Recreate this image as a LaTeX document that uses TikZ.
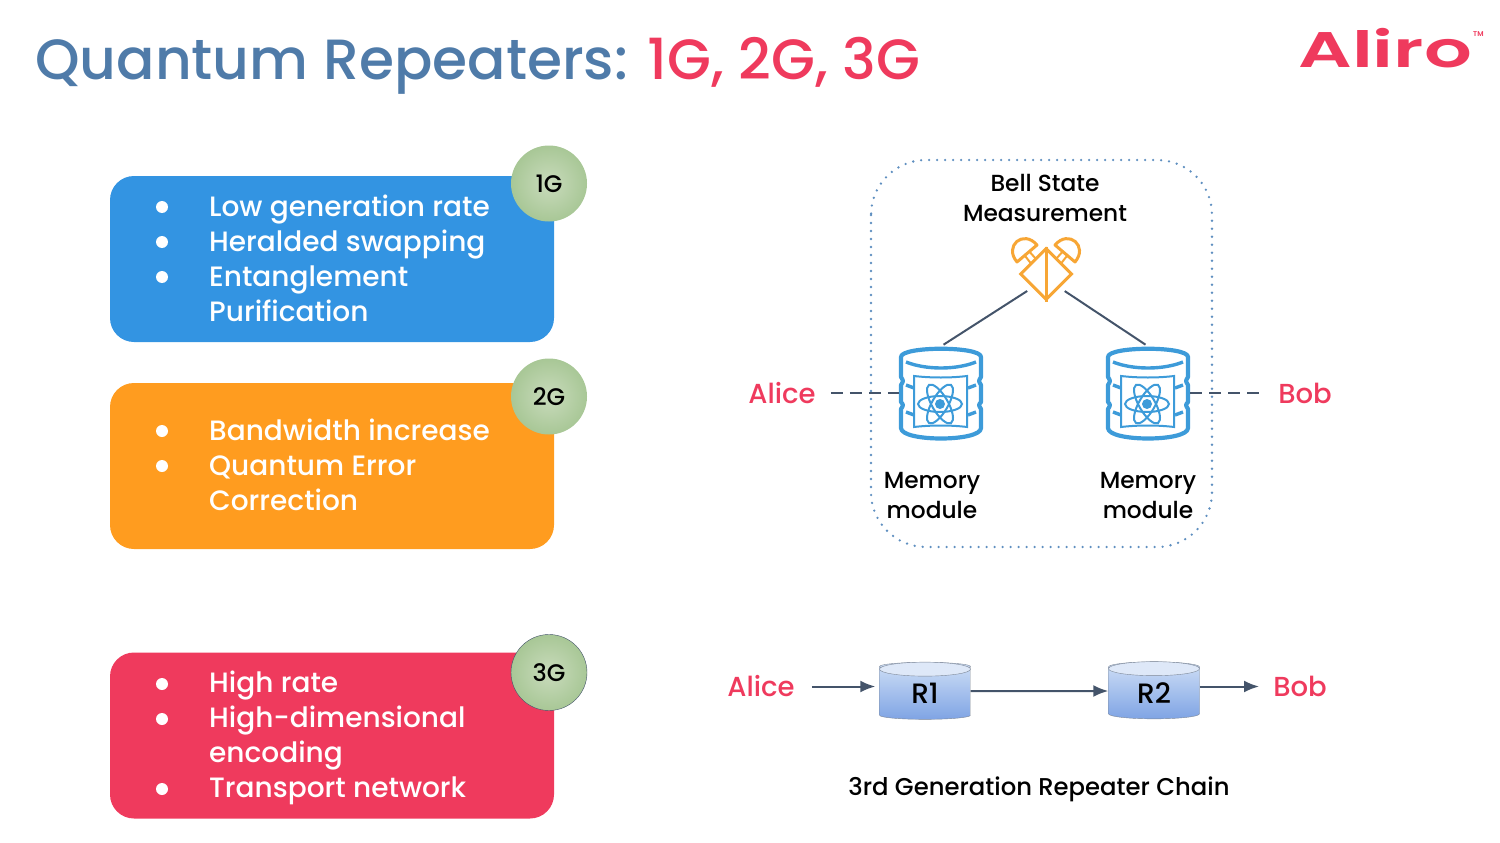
\documentclass[tikz,border=0pt]{standalone}
\usepackage{fontspec}
\setmainfont{Poppins}[UprightFont=* Medium,BoldFont=* SemiBold]
\usetikzlibrary{arrows.meta,shapes.geometric,scopes}
\definecolor{titleblue}{HTML}{4F7BA9}
\definecolor{aliro}{HTML}{EF3A5D}
\definecolor{cardblue}{HTML}{3394E2}
\definecolor{cardorange}{HTML}{FF9C1F}
\definecolor{lineslate}{HTML}{44546A}
\definecolor{iconblue}{HTML}{3D9BD9}
\definecolor{bsmorange}{HTML}{F7A635}
\definecolor{ballin}{HTML}{C9DBBC}
\definecolor{ballout}{HTML}{A8C796}
\definecolor{drumtop}{HTML}{CFDFF6}
\definecolor{drumlow}{HTML}{7FA4E4}
\definecolor{drumcap}{HTML}{DEE8F8}
\definecolor{framedot}{HTML}{5F8FC0}
\begin{document}
\begin{tikzpicture}[
    x=1pt,y=-1pt,
    card/.style={rectangle,rounded corners=24pt,minimum width=444pt,minimum height=166pt,inner sep=0pt},
    ball/.style={circle,minimum size=76pt,inner sep=0pt,inner color=ballin,outer color=ballout,font=\fontsize{24}{28}\selectfont},
    bullet/.style={circle,fill=white,minimum size=12pt,inner sep=0pt},
    item/.style={anchor=base west,white,inner sep=0pt,font=\fontsize{28}{30}\selectfont},
    label/.style={black,align=center,inner sep=0pt,font=\fontsize{23.3}{30}\selectfont},
    party/.style={aliro,inner sep=0pt,font=\fontsize{27.5}{30}\selectfont},
    link/.style={lineslate,line width=2pt},
    flow/.style={link,-{Latex[length=15pt,width=12pt]}},
    repeater/.style={cylinder,shape border rotate=90,aspect=0.3,draw=lineslate!70,thin,top color=drumtop,bottom color=drumlow,minimum width=91pt,minimum height=57pt,inner sep=0pt,font=\fontsize{28}{30}\selectfont},
    module/.style={minimum width=84pt,minimum height=93pt,inner sep=0pt},
    memory/.pic={
        % Outer body of the stacked drum
        \draw[iconblue,line width=4.2pt,line join=round]
            (-40,-16) -- (-40,-36) .. controls (-40,-47) and (40,-47) .. (40,-36) -- (40,-16)
            .. controls (37.5,-12) .. (40,-8) -- (40,9)
            .. controls (37.5,12) .. (40,16) -- (40,35)
            .. controls (40,49) and (-40,49) .. (-40,35) -- (-40,16)
            .. controls (-37.5,12) .. (-40,9) -- (-40,-8)
            .. controls (-37.5,-12) .. (-40,-16) -- cycle;
        \draw[iconblue,line width=3.4pt] (-35,-31) .. controls (-15,-23) and (15,-23) .. (35,-31);
        {[iconblue,line width=3.4pt]
            \draw (-35,-8) -- (-27,-5);
            \draw (35,-8) -- (27,-5);
            \draw (-35,19) -- (-27,22);
            \draw (35,19) -- (27,22);
        }
        % Panel with the atom on it
        \draw[iconblue,line width=2pt,fill=white] (-27,-17) .. controls (-10,-15) and (10,-15) .. (26,-17)
            -- (26,34) .. controls (10,32) and (-10,32) .. (-27,34) -- cycle;
        \foreach \tilt in {0,60,120}
            \draw[iconblue,line width=2pt,rotate around={\tilt:(-1,11)}] (-1,11) ellipse [x radius=22pt,y radius=8pt];
        \fill[iconblue] (-1,11) circle [radius=5pt];
    },
    ]
\useasboundingbox (0,0) rectangle (1500,843);

    %% Title and logo
    \node[anchor=base west,inner sep=0pt,titleblue,font=\fontsize{56.7}{60}\selectfont] (title) at (35,80)
        {Quantum Repeaters: \textcolor{aliro}{1G, 2G, 3G}};
    \node[anchor=base west,inner sep=0pt,aliro,xscale=1.5,font=\fontsize{50}{56}\selectfont\bfseries] (logo) at (1298,68) {Aliro};
    \node[anchor=base west,inner sep=0pt,aliro,font=\fontsize{7}{8}\selectfont\bfseries] (tm) at (1473,37) {TM};

    %% Generation cards
    \node[card,fill=cardblue] (cardA) at (332,259) {};
    \node[card,fill=cardorange] (cardB) at (332,466) {};
    \node[card,fill=aliro] (cardC) at (332,735.5) {};

    \foreach \y in {207,242,277,431,466,684,719,789}
        \node[bullet] (dot\y) at (162,\y) {};
    \foreach \y/\txt in {216/Low generation rate,251/Heralded swapping,286/Entanglement,321/Purification,
                         440/Bandwidth increase,475/Quantum Error,510/Correction,
                         692/High rate,727/High-dimensional,762/encoding,797/Transport network}
        \node[item] (line\y) at (209,\y) {\txt};

    \node[ball] (genA) at (549,183.5) {1G};
    \node[ball] (genB) at (549,396.5) {2G};
    \node[ball,draw=lineslate,thin] (genC) at (549,672.5) {3G};

    %% Second generation repeater node
    \draw[framedot,line width=2.6pt,line cap=round,dash pattern=on 0pt off 8pt,rounded corners=55pt]
        (871,160) rectangle (1212,547);
    \node[label] (bell) at (1045,198) {Bell State\\Measurement};

    % Beam splitter with its two detectors
    \node[diamond,draw=bsmorange,line width=3pt,minimum size=52pt,inner sep=0pt,aspect=1] (bsm) at (1046,274) {};
    {[bsmorange,line width=3pt,line join=round]
        \draw (bsm.north) -- (bsm.south);
        \draw (1017,262) .. controls (1003.4,246) and (1023.4,229) .. (1037,245) -- cycle;
        \draw (1075,262) .. controls (1088.6,246) and (1068.6,229) .. (1055,245) -- cycle;
        \draw[line width=2pt] (1024.7,255.5) -- (1031,263.5);
        \draw[line width=2pt] (1029.3,251.5) -- (1036,259);
        \draw[line width=2pt] (1067.3,255.5) -- (1061,263.5);
        \draw[line width=2pt] (1062.7,251.5) -- (1056,259);
    }

    \node[module] (memL) at (941,393) {};
    \node[module] (memR) at (1148,393) {};
    \pic at (memL) {memory};
    \pic at (memR) {memory};
    \draw[link,shorten <=6pt,shorten >=3pt] (bsm.south west) -- (memL.north);
    \draw[link,shorten <=6pt,shorten >=3pt] (bsm.south east) -- (memR.north);

    \node[label] (labL) at (932,496) {Memory\\module};
    \node[label] (labR) at (1148,496) {Memory\\module};

    \node[party] (aliceT) at (782,393) {Alice};
    \node[party] (bobT) at (1305,393) {Bob};
    \draw[link,dash pattern=on 12pt off 7pt,shorten <=15pt] (aliceT.east) -- (memL.west);
    \draw[link,dash pattern=on 12pt off 7pt,shorten >=16pt] (memR.east) -- (bobT.west);

    %% Third generation chain
    \node[party] (aliceB) at (761,686.5) {Alice};
    \node[party] (bobB) at (1300,686.5) {Bob};
    \node[repeater] (R1) at (925,693) {\raisebox{-4pt}{R1}};
    \node[repeater] (R2) at (1154,693) {\raisebox{-4pt}{R2}};
    \foreach \r in {R1,R2}
        \draw[draw=lineslate!70,thin,fill=drumcap] ([yshift=-7pt]\r.north) ellipse [x radius=45.5pt,y radius=7pt];
    \draw[flow,shorten <=17pt,shorten >=4pt] (aliceB.east) -- (aliceB -| R1.west);
    \draw[flow] ([yshift=2pt]R1.east) -- ([yshift=2pt]R2.west);
    \draw[flow,shorten >=14pt] (bobB -| R2.east) -- (bobB.west);
    \node[label,font=\fontsize{24.3}{30}\selectfont] (chain) at (1039,789) {3rd Generation Repeater Chain};
\end{tikzpicture}
\end{document}
